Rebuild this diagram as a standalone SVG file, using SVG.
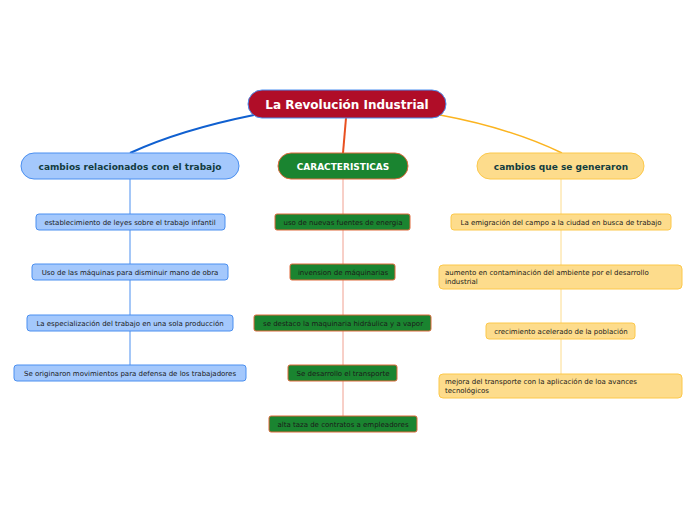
<svg xmlns="http://www.w3.org/2000/svg" width="696" height="520" viewBox="0 0 696 520">
<style>
text{font-family:"DejaVu Sans",Verdana,sans-serif;}
.s{font-size:7px;fill:#1a1a1a;}
.b{fill:#a4c8fc;stroke:#4a8ff0;stroke-width:1;}
.g{fill:#1a8430;stroke:#e0683a;stroke-width:1;}
.y{fill:#fddc8c;stroke:#fcc84a;stroke-width:1;}
.h{font-size:9px;font-weight:bold;}
</style>
<rect width="696" height="520" fill="#fff"/>
<g id="connectors" fill="none">
<path d="M254,115 Q180,130 130,153" stroke="#1060d0" stroke-width="2"/>
<path d="M346,118 L343,153" stroke="#e85020" stroke-width="2"/>
<path d="M440,115 Q510,128 562,153" stroke="#fbb420" stroke-width="1.5"/>
<path d="M130,179 V373" stroke="#4a8ff0" stroke-width="1"/>
<path d="M343,179 V423" stroke="#f0a090" stroke-width="1"/>
<path d="M561,179 V385" stroke="#fddc8c" stroke-width="1"/>
</g>
<g id="root"><rect x="248" y="90" width="198" height="28" rx="14" fill="#b00d28" stroke="#4a8ff0"/><text x="347" y="108.5" text-anchor="middle" font-size="12" font-weight="bold" fill="#fff">La Revolución Industrial</text></g>
<g id="n1"><rect x="21" y="153" width="218" height="26" rx="13" class="b" stroke="#1060d0"/><text x="130" y="170" text-anchor="middle" class="h" fill="#123c40">cambios relacionados con el trabajo</text></g>
<g id="n2"><rect x="278" y="153" width="130" height="26" rx="13" class="g" stroke="#e85020"/><text x="343" y="170" text-anchor="middle" class="h" font-size="8" fill="#fff">CARACTERISTICAS</text></g>
<g id="n3"><rect x="477" y="153" width="167" height="26" rx="13" class="y"/><text x="561" y="170" text-anchor="middle" class="h" fill="#123c40">cambios que se generaron</text></g>
<g id="b1"><rect x="36" y="214" width="189" height="16" rx="3" class="b"/><text x="130" y="225" text-anchor="middle" class="s">establecimiento de leyes sobre el trabajo infantil</text></g>
<g id="b2"><rect x="32" y="264" width="196" height="16" rx="3" class="b"/><text x="130" y="275" text-anchor="middle" class="s">Uso de las máquinas para disminuir mano de obra</text></g>
<g id="b3"><rect x="27" y="315" width="206" height="16" rx="3" class="b"/><text x="130" y="326" text-anchor="middle" class="s">La especialización del trabajo en una sola producción</text></g>
<g id="b4"><rect x="14" y="365" width="232" height="16" rx="3" class="b"/><text x="130" y="376" text-anchor="middle" class="s">Se originaron movimientos para defensa de los trabajadores</text></g>
<g id="g1"><rect x="275" y="214" width="135" height="16" rx="2" class="g"/><text x="343" y="225" text-anchor="middle" class="s">uso de nuevas fuentes de energia</text></g>
<g id="g2"><rect x="290" y="264" width="105" height="16" rx="2" class="g"/><text x="343" y="275" text-anchor="middle" class="s">invension de máquinarias</text></g>
<g id="g3"><rect x="254" y="315" width="177" height="16" rx="2" class="g"/><text x="343" y="326" text-anchor="middle" class="s">se destaco la maquinaria hidráulica y a vapor</text></g>
<g id="g4"><rect x="288" y="365" width="109" height="16" rx="2" class="g"/><text x="343" y="376" text-anchor="middle" class="s">Se desarrollo el transporte</text></g>
<g id="g5"><rect x="269" y="416" width="148" height="16" rx="2" class="g"/><text x="343" y="427" text-anchor="middle" class="s">alta taza de contratos a empleadores</text></g>
<g id="y1"><rect x="451" y="214" width="220" height="16" rx="3" class="y"/><text x="561" y="225" text-anchor="middle" class="s">La emigración del campo a la ciudad en busca de trabajo</text></g>
<g id="y2"><rect x="439" y="265" width="243" height="24" rx="4" class="y"/><text x="445" y="275" class="s">aumento en contaminación del ambiente por el desarrollo</text><text x="445" y="284" class="s">industrial</text></g>
<g id="y3"><rect x="486" y="323" width="149" height="16" rx="3" class="y"/><text x="561" y="334" text-anchor="middle" class="s">crecimiento acelerado de la población</text></g>
<g id="y4"><rect x="439" y="374" width="243" height="24" rx="4" class="y"/><text x="445" y="384" class="s">mejora del transporte con la aplicación de loa avances</text><text x="445" y="393" class="s">tecnológicos</text></g>
</svg>
